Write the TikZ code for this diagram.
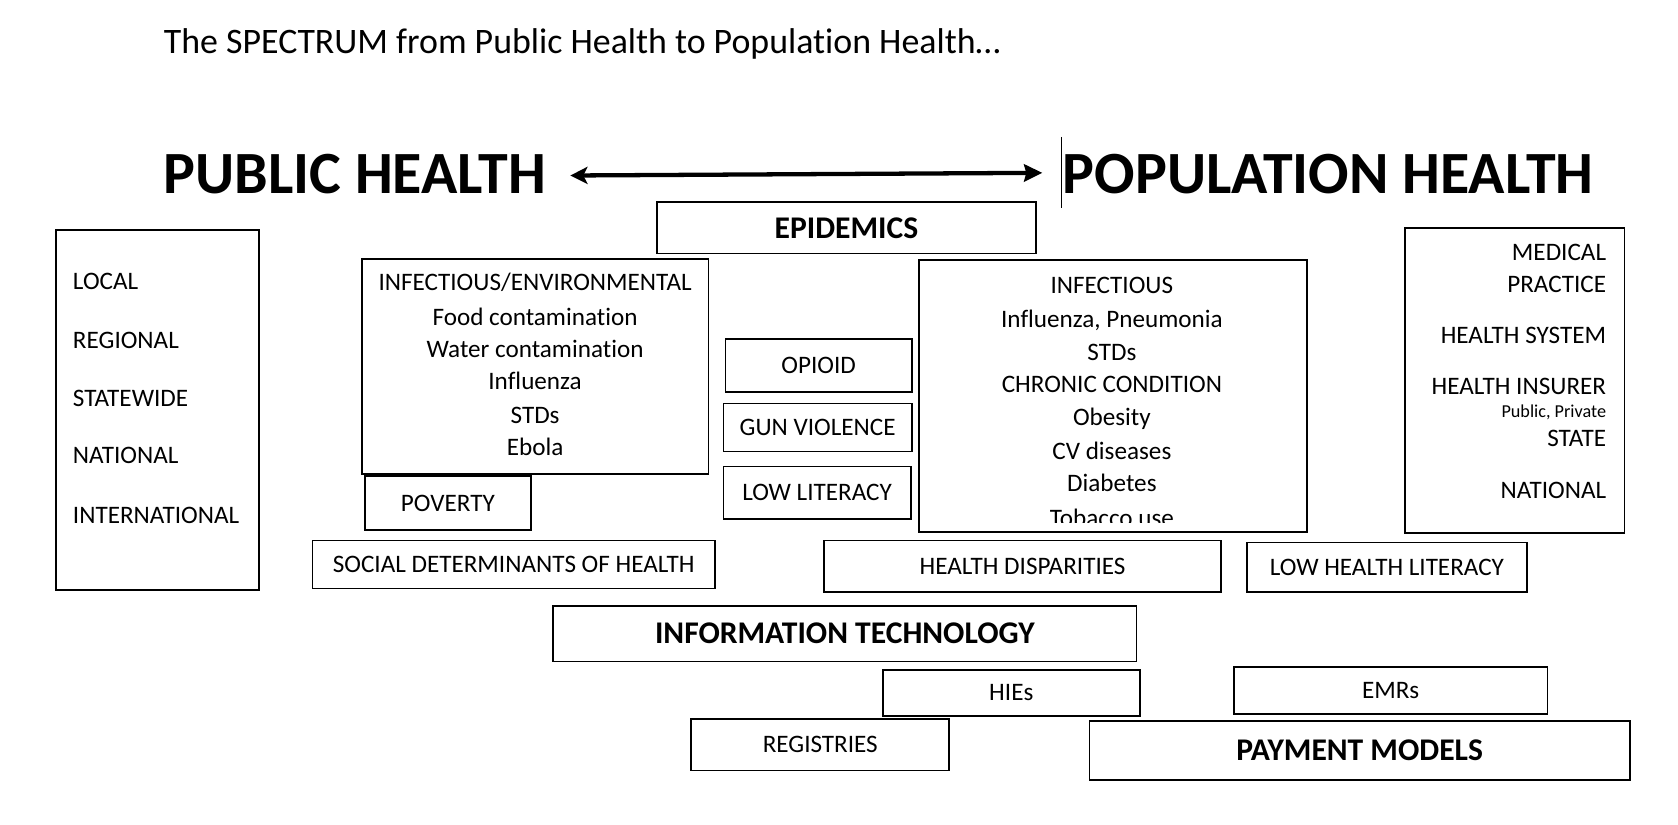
\documentclass[tikz,border=0pt]{standalone}
\usepackage{fontspec}
\setmainfont{Carlito}[Ligatures=NoCommon]
\usetikzlibrary{arrows.meta}
\begin{document}
\begin{tikzpicture}[x=1pt,y=-1pt,
  box/.style={draw, line width=1.6pt, inner sep=0pt, font=\fontsize{23.5}{28}\selectfont},
  bbox/.style={box, font=\fontsize{29.5}{34}\selectfont\bfseries},
  txt/.style={inner sep=0pt, font=\fontsize{23.5}{28}\selectfont},
  small/.style={inner sep=0pt, font=\fontsize{17}{20}\selectfont},
  big/.style={inner sep=0pt, font=\fontsize{56}{62}\selectfont\bfseries}]
\useasboundingbox (0,0) rectangle (1568,770);
% title
\node[inner sep=0pt, anchor=west, font=\fontsize{33.5}{38}\selectfont] (title) at (153,41) {The SPECTRUM from Public Health to Population Health…};
% headings
\node[big, anchor=west] (pub) at (153,163) {PUBLIC HEALTH};
\node[big, anchor=west] (pop) at (993,163) {POPULATION HEALTH};
\coordinate (aL) at (533,164);
\coordinate (aR) at (974,161.5);
\draw[line width=4pt, {Stealth[length=16pt,width=16pt,inset=4pt]}-{Stealth[length=17pt,width=16pt,inset=2pt]}] (aL) -- (aR);
\coordinate (cT) at (992,128);
\coordinate (cB) at (992,194);
\draw[line width=1.3pt] (cT) -- (cB);
% epidemics
\node[bbox, minimum width=354pt, minimum height=48pt] (epi) at (791,213) {EPIDEMICS};
% left level box
\node[box, minimum width=190pt, minimum height=336pt] (lev) at (147,383) {};
\node[txt, anchor=west] (l1) at (68,263) {LOCAL};
\node[txt, anchor=west] (l2) at (68,318) {REGIONAL};
\node[txt, anchor=west] (l3) at (68,372) {STATEWIDE};
\node[txt, anchor=west] (l4) at (68,426) {NATIONAL};
\node[txt, anchor=west] (l5) at (68,482) {INTERNATIONAL};
% infectious/environmental
\node[box, minimum width=324pt, minimum height=201pt] (ie) at (500,342.5) {};
\node[txt] (ie1) at (500,264) {INFECTIOUS/ENVIRONMENTAL};
\node[txt] (ie2) at (500,296) {Food contamination};
\node[txt] (ie3) at (500,326) {Water contamination};
\node[txt] (ie4) at (500,356) {Influenza};
\node[txt] (ie5) at (500,388) {STDs};
\node[txt] (ie6) at (500,418) {Ebola};
\node[box, minimum width=155pt, minimum height=50pt] (pov) at (418.5,470) {POVERTY};
% middle small boxes
\node[box, minimum width=174pt, minimum height=49pt] (opi) at (765,341.5) {OPIOID};
\node[box, minimum width=176pt, minimum height=45pt] (gun) at (764,399.5) {GUN VIOLENCE};
\node[box, minimum width=175pt, minimum height=49pt] (lit) at (763.5,460.5) {LOW LITERACY};
% infectious / chronic
\node[box, minimum width=362pt, minimum height=254pt] (ic) at (1040,370) {};
\node[txt] (ic1) at (1039,267) {INFECTIOUS};
\node[txt] (ic2) at (1039,299) {Influenza, Pneumonia};
\node[txt] (ic3) at (1039,329) {STDs};
\node[txt] (ic4) at (1039,359) {CHRONIC CONDITION};
\node[txt] (ic5) at (1039,391) {Obesity};
\node[txt] (ic6) at (1039,421) {CV diseases};
\node[txt] (ic7) at (1039,451) {Diabetes};
\begin{scope}
\clip (859,465) rectangle (1221,488.5);
\node[txt] (ic8) at (1039,484) {Tobacco use};
\end{scope}
% right box
\node[box, minimum width=205pt, minimum height=285pt] (org) at (1415.5,355.5) {};
\node[txt, anchor=east] (r1) at (1501,236) {MEDICAL};
\node[txt, anchor=east] (r2) at (1501,266) {PRACTICE};
\node[txt, anchor=east] (r3) at (1501,313) {HEALTH SYSTEM};
\node[txt, anchor=east] (r4) at (1501,361) {HEALTH INSURER};
\node[small, anchor=east] (r5) at (1501,385) {Public, Private};
\node[txt, anchor=east] (r6) at (1501,410) {STATE};
\node[txt, anchor=east] (r7) at (1501,458) {NATIONAL};
% row of determinants
\node[box, minimum width=376pt, minimum height=45pt] (sdh) at (480,527.5) {SOCIAL DETERMINANTS OF HEALTH};
\node[box, minimum width=371pt, minimum height=48pt] (hd) at (955.5,529) {HEALTH DISPARITIES};
\node[box, minimum width=262pt, minimum height=46pt] (lhl) at (1296,530) {LOW HEALTH LITERACY};
% IT
\node[bbox, minimum width=545pt, minimum height=52pt] (it) at (789.5,592) {INFORMATION TECHNOLOGY};
\node[box, minimum width=240pt, minimum height=43pt] (hie) at (945,647.5) {HIEs};
\node[box, minimum width=293pt, minimum height=44pt] (emr) at (1299.5,645) {EMRs};
\node[box, minimum width=241pt, minimum height=48pt] (reg) at (766.5,696) {REGISTRIES};
\node[bbox, minimum width=505pt, minimum height=55pt] (pay) at (1270.5,701.5) {PAYMENT MODELS};
\end{tikzpicture}
\end{document}
